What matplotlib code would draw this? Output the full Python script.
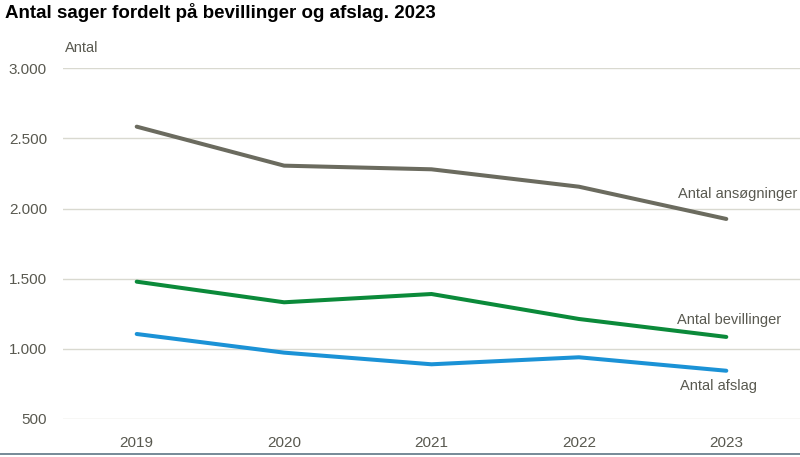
import matplotlib
matplotlib.use("Agg")
import matplotlib.pyplot as plt
from matplotlib.lines import Line2D

years = ["2019", "2020", "2021", "2022", "2023"]
ansogninger = [2584, 2306, 2280, 2156, 1926]
bevillinger = [1479, 1332, 1391, 1213, 1085]
afslag = [1106, 973, 890, 940, 844]
yticks = [500, 1000, 1500, 2000, 2500, 3000]
ytick_labels = ["500", "1.000", "1.500", "2.000", "2.500", "3.000"]

plt.rcParams['font.family'] = ['Liberation Sans', 'DejaVu Sans']

W, H = 800, 457
fig = plt.figure(figsize=(W / 100, H / 100), dpi=100)
ax = fig.add_axes([63 / W, 1 - 419 / H, 1 - 63 / W, (419 - 68.3) / H])

x = list(range(len(years)))
c_gray = "#6b6b5f"
c_green = "#0b8a3a"
c_blue = "#1b92d6"
lw = 2.9
ax.plot(x, ansogninger, color=c_gray, lw=lw, solid_capstyle="round", solid_joinstyle="round", zorder=3)
ax.plot(x, bevillinger, color=c_green, lw=lw, solid_capstyle="round", solid_joinstyle="round", zorder=3)
ax.plot(x, afslag, color=c_blue, lw=lw, solid_capstyle="round", solid_joinstyle="round", zorder=3)

ax.set_xlim(-0.5, 4.5)
ax.set_ylim(500, 3000)
ax.set_yticks(yticks)
ax.set_yticklabels(ytick_labels)
ax.set_xticks(x)
ax.set_xticklabels(years)
ax.grid(axis="y", color="#d9d9d0", lw=1.0)
ax.set_axisbelow(True)
for s in ax.spines.values():
    s.set_visible(False)
ax.tick_params(axis="both", length=0, labelsize=11, colors="#595950")
ax.tick_params(axis="y", pad=11.5)
ax.tick_params(axis="x", pad=12)
ax.patch.set_alpha(0)

txtc = "#595950"
fig.text(5 / W, 1 - 13 / H, "Antal sager fordelt på bevillinger og afslag. 2023",
         fontsize=13.5, fontweight="bold", color="black", va="center", ha="left")
fig.text(65 / W, 1 - 48 / H, "Antal", fontsize=10.5, color=txtc, va="center", ha="left")
fig.text(678 / W, 1 - 194 / H, "Antal ansøgninger", fontsize=10.5, color=txtc, va="center", ha="left")
fig.text(677 / W, 1 - 320 / H, "Antal bevillinger", fontsize=10.5, color=txtc, va="center", ha="left")
fig.text(680 / W, 1 - 386 / H, "Antal afslag", fontsize=10.5, color=txtc, va="center", ha="left")

fig.add_artist(Line2D([0, 1], [1 - 454 / H, 1 - 454 / H], transform=fig.transFigure,
                      color="#5f7585", lw=1.2))

fig.savefig("out.png", dpi=100)
